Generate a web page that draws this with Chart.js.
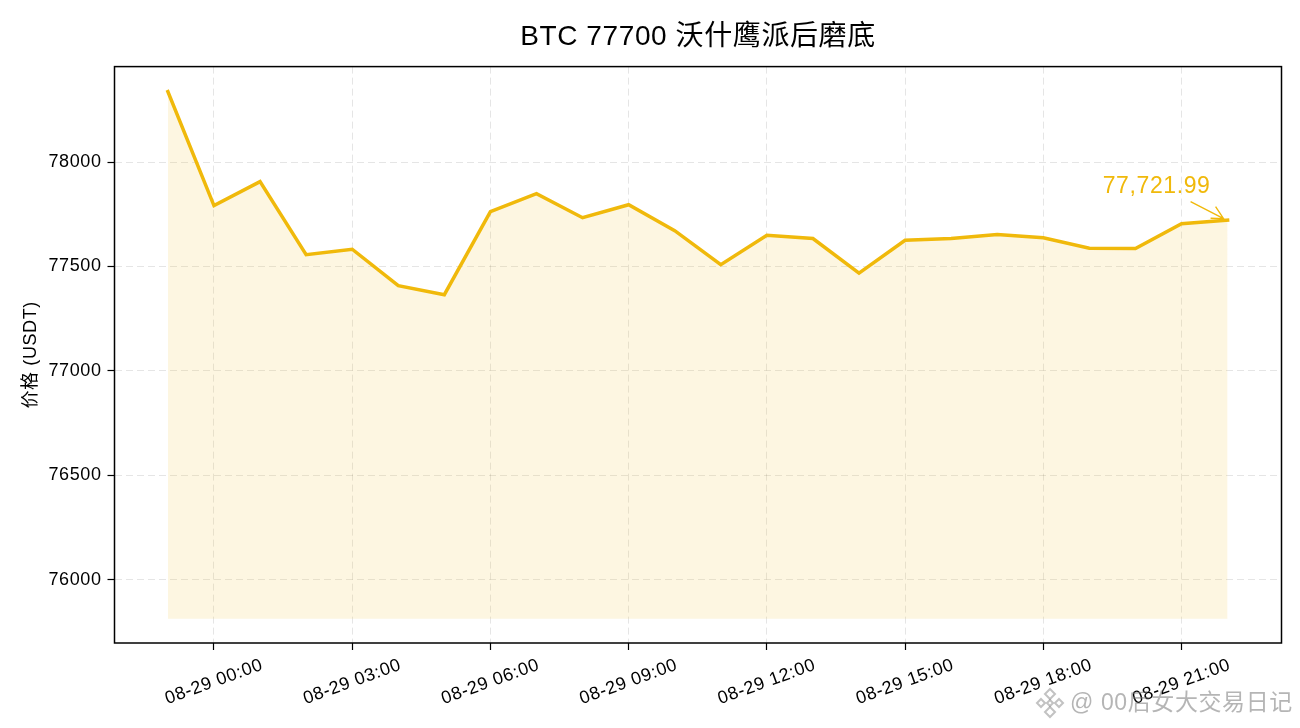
<!DOCTYPE html>
<html>
<head>
<meta charset="utf-8">
<style>
  html, body { margin: 0; padding: 0; background: #fff; }
  #wrap { width: 1300px; height: 728px; }
</style>
<script src="https://cdn.jsdelivr.net/npm/chart.js@4/dist/chart.umd.min.js"></script>
</head>
<body>
<div id="wrap"><canvas id="priceChart" width="1300" height="728"></canvas></div>
<script>
// hours counted from 08-29 00:00
const hours = [-1, 0, 1, 2, 3, 4, 5, 6, 7, 8, 9, 10, 11, 12, 13, 14, 15, 16, 17, 18, 19, 20, 21, 22];
const prices = [78338, 77792, 77907, 77557, 77583, 77408, 77365, 77763, 77849, 77734, 77796, 77672,
  77509, 77650, 77634, 77468, 77626, 77634, 77653, 77638, 77588, 77586, 77705, 77721.99];
const xTickValues = [0, 3, 6, 9, 12, 15, 18, 21];
const xTickLabels = ['08-29 00:00', '08-29 03:00', '08-29 06:00', '08-29 09:00', '08-29 12:00', '08-29 15:00', '08-29 18:00', '08-29 21:00'];
const yTickValues = [76000, 76500, 77000, 77500, 78000];
const fillFloor = 75812;
const lastLabel = '77,721.99';

const gold = '#F0B90B';
const sans = '"Liberation Sans", "Noto Sans CJK SC", sans-serif';

const extras = {
  id: 'extras',
  beforeDraw(chart) {
    // reference text runs a little wider than Liberation
    chart.ctx.letterSpacing = '0.6px';
  },
  afterDatasetsDraw(chart) {
    const ctx = chart.ctx;
    const area = chart.chartArea;
    const x = chart.scales.x;
    const y = chart.scales.y;

    // frame
    ctx.save();
    ctx.strokeStyle = '#000';
    ctx.lineWidth = 1.5;
    ctx.strokeRect(area.left, area.top, area.right - area.left, area.bottom - area.top);

    // x labels, rotated round their centre
    ctx.fillStyle = '#000';
    ctx.font = '18px ' + sans;
    ctx.textAlign = 'center';
    ctx.textBaseline = 'middle';
    xTickValues.forEach((v, i) => {
      ctx.save();
      ctx.translate(x.getPixelForValue(v), area.bottom + 39);
      ctx.rotate(-20 * Math.PI / 180);
      ctx.fillText(xTickLabels[i], 0, 0);
      ctx.restore();
    });

    // last price note
    const tipX = x.getPixelForValue(hours[hours.length - 1]) - 4;
    const tipY = y.getPixelForValue(prices[prices.length - 1]) - 1.5;
    ctx.fillStyle = gold;
    ctx.font = '23px ' + sans;
    ctx.fillText(lastLabel, tipX - 67, tipY - 32);
    ctx.strokeStyle = gold;
    ctx.lineWidth = 1.4;
    ctx.beginPath();
    ctx.moveTo(tipX - 33, tipY - 17);
    ctx.lineTo(tipX, tipY);
    ctx.moveTo(tipX - 13, tipY - 0.5);
    ctx.lineTo(tipX, tipY);
    ctx.lineTo(tipX - 8, tipY - 12);
    ctx.stroke();

    // watermark
    ctx.fillStyle = 'rgba(120,120,120,0.55)';
    ctx.font = '23px ' + sans;
    ctx.textAlign = 'left';
    ctx.fillText('@ 00后女大交易日记', 1070, 704);
    ctx.strokeStyle = 'rgba(120,120,120,0.45)';
    ctx.lineWidth = 2;
    [[1050, 694, 5], [1041, 703, 4], [1059, 703, 4], [1050, 703, 3], [1050, 712, 5]].forEach((d) => {
      ctx.beginPath();
      ctx.moveTo(d[0], d[1] - d[2]);
      ctx.lineTo(d[0] + d[2], d[1]);
      ctx.lineTo(d[0], d[1] + d[2]);
      ctx.lineTo(d[0] - d[2], d[1]);
      ctx.closePath();
      ctx.stroke();
    });
    ctx.restore();
  },
};

const gridLine = {
  color: 'rgba(0,0,0,0.1)',
  lineWidth: 1,
  tickColor: '#000',
  tickWidth: 1.2,
  tickLength: 7,
  tickBorderDash: [],
};
const axisBorder = { display: false, dash: [7, 4] };

new Chart(document.getElementById('priceChart').getContext('2d'), {
  type: 'line',
  data: {
    labels: hours,
    datasets: [
      {
        data: hours.map((h, i) => ({ x: h, y: prices[i] })),
        borderColor: gold,
        borderWidth: 3.5,
        borderCapStyle: 'square',
        borderJoinStyle: 'miter',
        pointRadius: 0,
        tension: 0,
        fill: { target: { value: fillFloor } },
        backgroundColor: 'rgba(240,185,11,0.12)',
      },
    ],
  },
  options: {
    responsive: false,
    animation: false,
    layout: { padding: { left: 0, right: 18.5, top: 0, bottom: 0 } },
    plugins: {
      legend: { display: false },
      tooltip: { enabled: false },
      title: {
        display: true,
        text: 'BTC 77700 沃什鹰派后磨底',
        fullSize: false,
        color: '#000',
        font: { family: sans, size: 28, weight: 'normal' },
        padding: { top: 20, bottom: 13 },
      },
    },
    scales: {
      x: {
        type: 'linear',
        min: -2.159,
        max: 23.17,
        grid: gridLine,
        border: axisBorder,
        afterBuildTicks(scale) {
          scale.ticks = xTickValues.map((v) => ({ value: v }));
        },
        ticks: { display: false },
        afterFit(scale) {
          scale.height = 85;
        },
      },
      y: {
        min: 75696,
        max: 78458,
        grid: gridLine,
        border: axisBorder,
        afterBuildTicks(scale) {
          scale.ticks = yTickValues.map((v) => ({ value: v }));
        },
        ticks: {
          color: '#000',
          font: { family: sans, size: 18 },
          padding: 6,
          callback: (v) => String(v),
        },
        title: {
          display: true,
          text: '价格 (USDT)',
          color: '#000',
          font: { family: sans, size: 18 },
          padding: { top: 20, bottom: 6 },
        },
        afterFit(scale) {
          scale.width = 114.5;
        },
      },
    },
  },
  plugins: [extras],
});
</script>
</body>
</html>
